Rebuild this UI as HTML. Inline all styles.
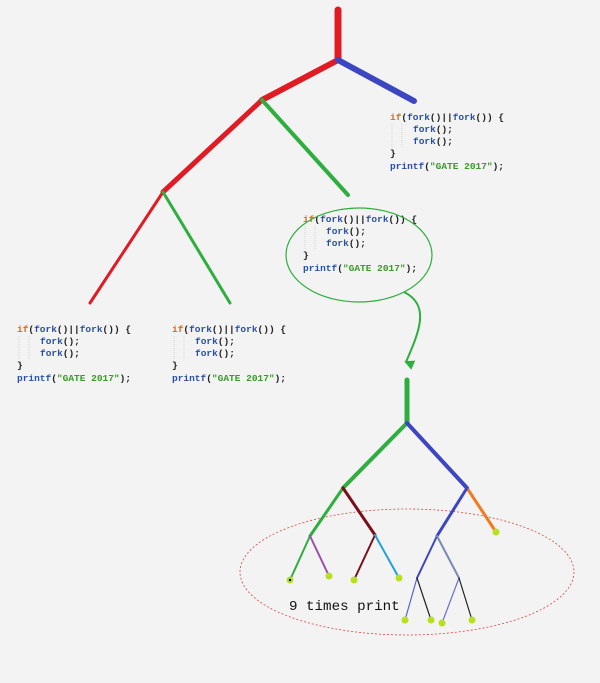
<!DOCTYPE html>
<html><head><meta charset="utf-8"><style>
html,body{margin:0;padding:0;background:#f3f3f3;}
svg{display:block}
.c{font-family:"Liberation Mono",monospace;font-size:9.5px;font-weight:bold}
.k{fill:#e06a14}.b{fill:#2a4fa8}.s{fill:#3a9a2a}.d{fill:#222}
</style></head><body>
<svg width="600" height="683" viewBox="0 0 600 683">
<rect width="600" height="683" fill="#f3f3f3"/>
<defs>
<g id="code">
<text class="c" x="0" y="0"><tspan class="k">if</tspan><tspan class="d">(</tspan><tspan class="b">fork</tspan><tspan class="d">()||</tspan><tspan class="b">fork</tspan><tspan class="d">()) {</tspan></text>
<line x1="2" y1="4" x2="2" y2="28" stroke="#ccc" stroke-width="0.8" stroke-dasharray="1,1"/>
<line x1="12" y1="4" x2="12" y2="28" stroke="#ccc" stroke-width="0.8" stroke-dasharray="1,1"/>
<text class="c b" x="23" y="12">fork<tspan class="d">();</tspan></text>
<text class="c b" x="23" y="24">fork<tspan class="d">();</tspan></text>
<text class="c d" x="0" y="36">}</text>
<text class="c b" x="0" y="49">printf<tspan class="d">(</tspan><tspan class="s">"GATE 2017"</tspan><tspan class="d">);</tspan></text>
</g>
<marker id="ar" markerWidth="10" markerHeight="10" refX="5" refY="8" orient="auto" markerUnits="userSpaceOnUse"><path d="M0,0 L10,0 L5,10 z" fill="#2eae3e"/></marker>
</defs>
<g stroke-linecap="round" fill="none">
<line x1="338" y1="10" x2="338" y2="60" stroke="#e01b24" stroke-width="7"/>
<line x1="338" y1="60" x2="262" y2="100" stroke="#e01b24" stroke-width="6"/>
<line x1="338" y1="60" x2="414" y2="101" stroke="#3c46c0" stroke-width="6"/>
<line x1="262" y1="100" x2="163" y2="192" stroke="#e01b24" stroke-width="5"/>
<line x1="262" y1="100" x2="348" y2="195" stroke="#2eae3e" stroke-width="4"/>
<line x1="163" y1="192" x2="90" y2="303" stroke="#e01b24" stroke-width="3"/>
<line x1="163" y1="192" x2="230" y2="303" stroke="#2eae3e" stroke-width="3"/>
</g>
<use href="#code" x="390" y="120"/>
<use href="#code" x="303" y="222"/>
<use href="#code" x="17" y="332"/>
<use href="#code" x="172" y="332"/>
<ellipse cx="359" cy="255" rx="73" ry="47" fill="none" stroke="#2eae3e" stroke-width="1.2"/>
<path d="M404,292 C430,305 420,330 406,362" fill="none" stroke="#2eae3e" stroke-width="2" marker-end="url(#ar)"/>
<ellipse cx="407" cy="572" rx="167" ry="63" fill="none" stroke="#d44" stroke-width="0.8" stroke-dasharray="2,2"/>
<g stroke-linecap="round" fill="none">
<line x1="407" y1="380" x2="407" y2="423" stroke="#2eae3e" stroke-width="5"/>
<line x1="407" y1="423" x2="343" y2="488" stroke="#2eae3e" stroke-width="4"/>
<line x1="407" y1="423" x2="467" y2="488" stroke="#3c46c0" stroke-width="4"/>
<line x1="343" y1="488" x2="310" y2="536" stroke="#2eae3e" stroke-width="3"/>
<line x1="310" y1="536" x2="290" y2="580" stroke="#2eae3e" stroke-width="2"/>
<line x1="310" y1="536" x2="329" y2="576" stroke="#9a4fb0" stroke-width="2"/>
<line x1="343" y1="488" x2="375" y2="535" stroke="#7a0f1a" stroke-width="3"/>
<line x1="375" y1="535" x2="354" y2="580" stroke="#7a0f1a" stroke-width="2"/>
<line x1="375" y1="535" x2="399" y2="578" stroke="#1fa0e0" stroke-width="2"/>
<line x1="467" y1="488" x2="496" y2="532" stroke="#f07a20" stroke-width="3"/>
<line x1="467" y1="488" x2="437" y2="536" stroke="#3c46c0" stroke-width="3"/>
<line x1="437" y1="536" x2="417" y2="578" stroke="#3c46c0" stroke-width="2"/>
<line x1="437" y1="536" x2="459" y2="578" stroke="#7a8ab8" stroke-width="2"/>
<line x1="417" y1="578" x2="405" y2="620" stroke="#5560c8" stroke-width="1.2"/>
<line x1="417" y1="578" x2="431" y2="620" stroke="#222" stroke-width="1.2"/>
<line x1="459" y1="578" x2="442" y2="623" stroke="#6a70d0" stroke-width="1.2"/>
<line x1="459" y1="578" x2="472" y2="620" stroke="#222" stroke-width="1.2"/>
</g>
<g fill="#b8e020">
<circle cx="290" cy="580" r="3.5"/><circle cx="329" cy="576" r="3.5"/><circle cx="354" cy="580" r="3.5"/><circle cx="399" cy="578" r="3.5"/><circle cx="496" cy="532" r="3.5"/><circle cx="405" cy="620" r="3.5"/><circle cx="431" cy="620" r="3.5"/><circle cx="442" cy="623" r="3.5"/><circle cx="472" cy="620" r="3.5"/>
</g>
<circle cx="290" cy="580" r="1.2" fill="#000"/>
<text x="289" y="610" font-family="Liberation Mono, monospace" font-size="14.2" fill="#111">9 times print</text>
</svg>
</body></html>
